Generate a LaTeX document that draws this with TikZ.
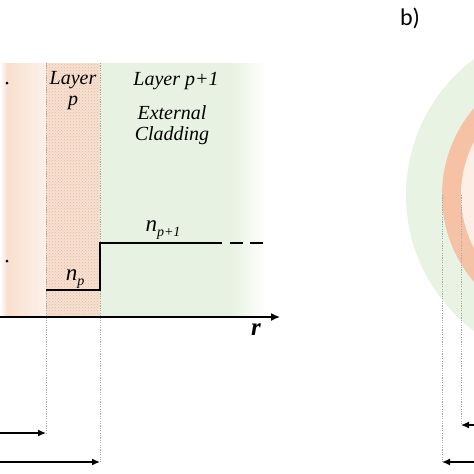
\documentclass[tikz,border=0pt]{standalone}
\usepackage{fontspec}
\setmainfont{Liberation Serif}
\newfontfamily\sansfnt{Carlito}
\usetikzlibrary{arrows.meta,patterns}
\definecolor{peachA}{HTML}{F9DFCF}
\definecolor{peachB}{HTML}{FCF1EA}
\definecolor{layerp}{HTML}{F8E0D1}
\definecolor{dotcol}{HTML}{E2B9A2}
\definecolor{greenA}{HTML}{E8F2E2}
\definecolor{ring}{HTML}{F5C2A5}
\definecolor{innerc}{HTML}{FDEEE6}
\definecolor{guide}{HTML}{A8A8A8}
\newcommand{\refidx}[2]{{\itshape #1}\raisebox{-0.45ex}{\fontsize{14}{14}\selectfont\itshape #2}}
\begin{document}
\begin{tikzpicture}[x=1pt,y=-1pt,
  lbl/.style={font=\itshape\fontsize{20}{21}\selectfont, inner sep=0pt, align=center},
  idx/.style={font=\fontsize{23}{25}\selectfont, inner sep=0pt},
  guideline/.style={guide, line width=0.8pt, dash pattern=on 1.2pt off 1.2pt},
  steplinestyle/.style={line width=2.6pt, black},
  dimarrow/.style={line width=1.4pt, -{Latex[length=8pt,width=7pt]}}]
\useasboundingbox (0,0) rectangle (474,474);
\begin{scope}
\clip (0,0) rectangle (474,474);
% ---------- panel a backgrounds
\shade[left color=white, right color=peachA] (0,63) rectangle (7,317);
\shade[left color=peachA, right color=peachB] (7,63) rectangle (46,317);
\fill[layerp] (46,63) rectangle (100,317);
\fill[pattern=crosshatch dots, pattern color=dotcol] (46,63) rectangle (100,317);
\fill[greenA] (100,63) rectangle (232,317);
\shade[left color=greenA, right color=white] (232,63) rectangle (266,317);
% ---------- panel b circles
\coordinate (c) at (576,195);
\fill[greenA!95!white] (c) circle[radius=170];
\fill[ring] (c) circle[radius=134];
\fill[innerc] (c) circle[radius=115];
\end{scope}
% guides panel a
\coordinate (g1t) at (46,63);
\coordinate (g1b) at (46,433);
\coordinate (g2t) at (100,63);
\coordinate (g2b) at (100,462);
\draw[guideline] (g1t) -- (g1b);
\draw[guideline] (g2t) -- (g2b);
% dots
\fill (7,83) circle[radius=1.5];
\fill (7,261) circle[radius=1.5];
% labels
\node[lbl] (l1) at (73,91) {Layer\\p};
\node[lbl] (l3) at (176,81) {Layer p+1};
\node[lbl] (l4) at (172,125) {External\\Cladding};
\node[idx] (np) at (75,279) {\refidx{n}{p}};
\node[idx] (np1) at (163,230) {\refidx{n}{p+1}};
% step function
\coordinate (s0) at (46,290);
\coordinate (s1) at (100,290);
\coordinate (s2) at (100,243);
\coordinate (s3) at (222,243);
\coordinate (s4) at (230,243);
\coordinate (s5) at (263,243);
\draw[steplinestyle] (s0) -- (s1) -- (s2) -- (s3);
\draw[steplinestyle, dash pattern=on 13pt off 7pt] (s4) -- (s5);
% axis
\coordinate (a0) at (0,317);
\coordinate (a1) at (280,317);
\draw[line width=1.5pt, -{Latex[length=9pt,width=8pt]}] (a0) -- (a1);
\node[font=\bfseries\itshape\fontsize{25}{27}\selectfont, inner sep=0pt] (r) at (256,330) {r};
% dimension arrows panel a
\coordinate (d1s) at (-2,433);
\coordinate (d2s) at (-2,462);
\draw[dimarrow] (d1s) -- (g1b);
\draw[dimarrow] (d2s) -- (g2b);
% panel b
\node[font=\sansfnt\fontsize{24}{26}\selectfont, inner sep=0pt] (b) at (410,18) {b)};
\coordinate (h1t) at (461,195);
\coordinate (h1b) at (461,425);
\coordinate (h2t) at (442,195);
\coordinate (h2b) at (442,462);
\draw[guideline] (h1t) -- (h1b);
\draw[guideline] (h2t) -- (h2b);
\coordinate (e1s) at (476,425);
\coordinate (e2s) at (476,462);
\draw[dimarrow] (e1s) -- (h1b);
\draw[dimarrow] (e2s) -- (h2b);
\end{tikzpicture}
\end{document}
